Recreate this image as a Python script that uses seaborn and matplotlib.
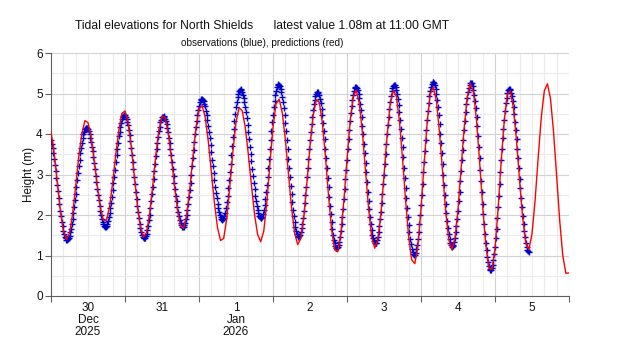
import pandas as pd
import seaborn as sns
import matplotlib.pyplot as plt
import matplotlib.dates as mdates
from matplotlib.ticker import MultipleLocator, FuncFormatter, NullFormatter

# --- DATA ---
start_time = '2025-12-30 00:00'
end_time = '2026-01-06 00:00'

# predicted heights (m), hourly from 30 Dec 00:00
pred_heights = [
    4.06, 3.54, 2.84, 2.14, 1.61, 1.40, 1.55, 2.02, 2.71, 3.43, 4.01, 4.33,
    4.28, 3.93, 3.36, 2.73, 2.18, 1.87, 1.87, 2.21, 2.80, 3.49, 4.09, 4.51,
    4.57, 4.29, 3.71, 2.98, 2.25, 1.71, 1.45, 1.57, 2.04, 2.73, 3.49, 4.10,
    4.44, 4.41, 4.04, 3.44, 2.75, 2.15, 1.73, 1.67, 1.99, 2.64, 3.42, 4.15,
    4.62, 4.70, 4.42, 3.83, 3.07, 2.30, 1.69, 1.37, 1.42, 1.91, 2.70, 3.57,
    4.29, 4.65, 4.58, 4.17, 3.50, 2.74, 2.02, 1.52, 1.34, 1.60, 2.31, 3.26,
    4.16, 4.75, 4.86, 4.53, 3.87, 3.03, 2.19, 1.56, 1.27, 1.41, 1.96, 2.80,
    3.70, 4.44, 4.84, 4.79, 4.28, 3.45, 2.48, 1.64, 1.14, 1.09, 1.54, 2.37,
    3.37, 4.31, 4.92, 5.08, 4.75, 4.03, 3.09, 2.16, 1.45, 1.18, 1.39, 2.04,
    2.98, 3.96, 4.73, 5.08, 4.93, 4.32, 3.40, 2.36, 1.46, 0.89, 0.80, 1.24,
    2.15, 3.25, 4.29, 4.99, 5.16, 4.81, 4.04, 3.05, 2.09, 1.39, 1.14, 1.41,
    2.14, 3.14, 4.16, 4.91, 5.25, 5.04, 4.34, 3.32, 2.21, 1.27, 0.69, 0.65,
    1.17, 2.15, 3.32, 4.33, 4.99, 5.06, 4.62, 3.81, 2.82, 1.91, 1.30, 1.15,
    1.53, 2.36, 3.41, 4.40, 5.07, 5.24, 4.87, 4.04, 2.96, 1.85, 0.99, 0.56, 0.57,
]

# observed heights (m), every 15 min from 30 Dec 00:00 to 5 Jan 11:00
obs_heights = [
    3.86, 3.76, 3.65, 3.52, 3.38, 3.23, 3.08, 2.92, 2.75, 2.59, 2.42, 2.27,
    2.11, 1.97, 1.83, 1.72, 1.61, 1.53, 1.46, 1.42, 1.39, 1.38, 1.40, 1.44,
    1.49, 1.57, 1.66, 1.78, 1.90, 2.05, 2.20, 2.36, 2.53, 2.70, 2.87, 3.04,
    3.21, 3.37, 3.53, 3.66, 3.79, 3.89, 3.99, 4.06, 4.12, 4.15, 4.16, 4.15,
    4.12, 4.07, 4.00, 3.91, 3.81, 3.69, 3.57, 3.43, 3.28, 3.13, 2.97, 2.81,
    2.65, 2.50, 2.36, 2.23, 2.10, 2.00, 1.90, 1.83, 1.77, 1.73, 1.71, 1.71,
    1.74, 1.79, 1.85, 1.94, 2.04, 2.17, 2.30, 2.45, 2.61, 2.78, 2.95, 3.12,
    3.30, 3.47, 3.63, 3.79, 3.94, 4.06, 4.18, 4.27, 4.36, 4.41, 4.45, 4.47,
    4.46, 4.43, 4.38, 4.30, 4.21, 4.09, 3.97, 3.82, 3.66, 3.49, 3.32, 3.14,
    2.95, 2.76, 2.57, 2.40, 2.23, 2.07, 1.92, 1.79, 1.67, 1.59, 1.51, 1.46,
    1.43, 1.42, 1.44, 1.48, 1.54, 1.63, 1.73, 1.87, 2.01, 2.17, 2.34, 2.52,
    2.70, 2.89, 3.08, 3.27, 3.46, 3.63, 3.79, 3.93, 4.07, 4.18, 4.29, 4.35,
    4.41, 4.43, 4.44, 4.42, 4.38, 4.32, 4.25, 4.15, 4.04, 3.91, 3.77, 3.62,
    3.47, 3.31, 3.14, 2.97, 2.80, 2.64, 2.48, 2.34, 2.20, 2.08, 1.97, 1.88,
    1.80, 1.75, 1.71, 1.70, 1.71, 1.75, 1.80, 1.89, 1.99, 2.13, 2.27, 2.44,
    2.61, 2.80, 3.00, 3.20, 3.41, 3.61, 3.81, 3.99, 4.17, 4.32, 4.47, 4.59,
    4.70, 4.78, 4.84, 4.87, 4.87, 4.85, 4.81, 4.75, 4.68, 4.58, 4.47, 4.34,
    4.20, 4.05, 3.89, 3.72, 3.55, 3.37, 3.20, 3.03, 2.86, 2.70, 2.55, 2.41,
    2.28, 2.17, 2.07, 2.00, 1.94, 1.90, 1.88, 1.89, 1.92, 1.98, 2.06, 2.18,
    2.32, 2.48, 2.66, 2.86, 3.06, 3.27, 3.49, 3.71, 3.92, 4.13, 4.32, 4.50,
    4.66, 4.80, 4.91, 5.00, 5.06, 5.09, 5.10, 5.08, 5.04, 4.97, 4.89, 4.79,
    4.67, 4.54, 4.39, 4.23, 4.06, 3.88, 3.69, 3.51, 3.33, 3.14, 2.96, 2.79,
    2.63, 2.48, 2.35, 2.23, 2.13, 2.05, 1.98, 1.94, 1.92, 1.93, 1.96, 2.03,
    2.12, 2.25, 2.39, 2.56, 2.75, 2.95, 3.17, 3.39, 3.62, 3.85, 4.07, 4.29,
    4.48, 4.66, 4.82, 4.96, 5.07, 5.15, 5.21, 5.23, 5.22, 5.18, 5.12, 5.03,
    4.92, 4.78, 4.63, 4.46, 4.27, 4.07, 3.85, 3.62, 3.39, 3.16, 2.94, 2.72,
    2.51, 2.31, 2.13, 1.97, 1.82, 1.70, 1.60, 1.53, 1.48, 1.46, 1.47, 1.51,
    1.58, 1.67, 1.79, 1.93, 2.10, 2.29, 2.49, 2.70, 2.93, 3.16, 3.39, 3.62,
    3.84, 4.05, 4.25, 4.43, 4.59, 4.73, 4.85, 4.94, 5.00, 5.03, 5.04, 5.01,
    4.96, 4.87, 4.76, 4.62, 4.46, 4.28, 4.08, 3.87, 3.64, 3.40, 3.16, 2.92,
    2.68, 2.45, 2.23, 2.02, 1.83, 1.66, 1.51, 1.39, 1.30, 1.23, 1.19, 1.18,
    1.20, 1.26, 1.34, 1.46, 1.60, 1.77, 1.95, 2.16, 2.39, 2.63, 2.88, 3.12,
    3.37, 3.62, 3.87, 4.10, 4.32, 4.51, 4.68, 4.84, 4.97, 5.06, 5.13, 5.16,
    5.17, 5.14, 5.08, 5.00, 4.89, 4.75, 4.59, 4.41, 4.20, 3.99, 3.76, 3.53,
    3.29, 3.05, 2.81, 2.58, 2.35, 2.14, 1.95, 1.78, 1.63, 1.51, 1.42, 1.35,
    1.31, 1.30, 1.32, 1.38, 1.46, 1.58, 1.72, 1.89, 2.08, 2.29, 2.52, 2.76,
    3.00, 3.26, 3.51, 3.75, 3.99, 4.22, 4.43, 4.62, 4.79, 4.93, 5.05, 5.14,
    5.19, 5.21, 5.20, 5.16, 5.09, 4.99, 4.87, 4.72, 4.54, 4.34, 4.13, 3.90,
    3.67, 3.42, 3.16, 2.91, 2.66, 2.42, 2.18, 1.96, 1.76, 1.58, 1.41, 1.28,
    1.17, 1.09, 1.03, 1.01, 1.02, 1.07, 1.15, 1.26, 1.40, 1.58, 1.78, 2.00,
    2.24, 2.50, 2.77, 3.05, 3.32, 3.59, 3.86, 4.11, 4.35, 4.57, 4.76, 4.93,
    5.06, 5.16, 5.24, 5.28, 5.29, 5.26, 5.20, 5.11, 4.99, 4.84, 4.66, 4.46,
    4.24, 4.01, 3.77, 3.52, 3.26, 3.00, 2.74, 2.50, 2.27, 2.05, 1.85, 1.68,
    1.53, 1.41, 1.31, 1.25, 1.22, 1.23, 1.26, 1.34, 1.44, 1.57, 1.72, 1.90,
    2.11, 2.34, 2.58, 2.83, 3.09, 3.35, 3.61, 3.86, 4.10, 4.33, 4.54, 4.73,
    4.89, 5.03, 5.14, 5.21, 5.26, 5.27, 5.25, 5.18, 5.09, 4.97, 4.82, 4.64,
    4.43, 4.20, 3.95, 3.68, 3.40, 3.12, 2.84, 2.56, 2.28, 2.02, 1.77, 1.53,
    1.32, 1.13, 0.97, 0.84, 0.74, 0.67, 0.64, 0.65, 0.69, 0.77, 0.89, 1.04,
    1.21, 1.42, 1.66, 1.92, 2.19, 2.47, 2.76, 3.06, 3.35, 3.63, 3.90, 4.13,
    4.35, 4.57, 4.76, 4.90, 5.01, 5.08, 5.12, 5.11, 5.08, 5.02, 4.93, 4.81,
    4.66, 4.49, 4.30, 4.09, 3.87, 3.64, 3.40, 3.15, 2.90, 2.66, 2.42, 2.20,
    1.98, 1.78, 1.60, 1.45, 1.32, 1.22, 1.14, 1.10, 1.08,
]

title_text = 'Tidal elevations for North Shields      latest value 1.08m at 11:00 GMT'
subtitle_text = 'observations (blue), predictions (red)'

pred = pd.DataFrame({
    'time': pd.date_range(start_time, periods=len(pred_heights), freq='h'),
    'height': pred_heights,
})
obs = pd.DataFrame({
    'time': pd.date_range(start_time, periods=len(obs_heights), freq='15min'),
    'height': obs_heights,
})

# --- SETUP ---
sns.set_theme(style='white')
plt.rcParams['font.family'] = ['Liberation Sans', 'DejaVu Sans']

fig = plt.figure(figsize=(6.2, 3.5), dpi=100)
ax = fig.add_axes([51 / 620, 1 - 296 / 350, 518 / 620, 243 / 350])

sns.scatterplot(data=obs, x='time', y='height', marker='+', color='#0000cc',
                s=13, linewidth=1.0, ax=ax, zorder=3)
sns.lineplot(data=pred, x='time', y='height', color='#ff0000',
             linewidth=1.0, ax=ax, zorder=4)

# --- AXES ---
ax.set_xlim(pd.Timestamp(start_time), pd.Timestamp(end_time))
ax.set_ylim(0, 6)

first_day = pd.Timestamp(start_time)


def day_label(x, pos):
    d = mdates.num2date(x)
    if d.hour != 12:
        return ''
    if d.day == 1 or d.date() == first_day.date():
        return f"{d.day}\n{d.strftime('%b')}\n{d.year}"
    return str(d.day)


ax.xaxis.set_major_locator(mdates.DayLocator())
ax.xaxis.set_major_formatter(NullFormatter())
ax.xaxis.set_minor_locator(mdates.HourLocator(byhour=range(0, 24, 4)))
ax.xaxis.set_minor_formatter(FuncFormatter(day_label))
ax.yaxis.set_major_locator(MultipleLocator(1))
ax.yaxis.set_minor_locator(MultipleLocator(0.5))

ax.tick_params(axis='x', which='major', bottom=True, length=4, width=0.8,
               color='#606060', direction='out')
ax.tick_params(axis='x', which='minor', bottom=True, length=0, labelsize=8.5,
               pad=4, labelcolor='#111111')
ax.tick_params(axis='y', which='major', left=True, length=4, width=0.8,
               color='#606060', direction='out', labelsize=8.5, pad=2,
               labelcolor='#111111')
ax.tick_params(axis='y', which='minor', length=0)
for lbl in ax.get_xticklabels(minor=True):
    lbl.set_linespacing(1.05)

ax.grid(which='major', color='#d2d2d2', linewidth=0.8)
ax.grid(which='minor', color='#ebebeb', linewidth=0.8)
ax.set_axisbelow(True)

for side in ['top', 'right']:
    ax.spines[side].set_visible(False)
for side in ['left', 'bottom']:
    ax.spines[side].set_color('#606060')
    ax.spines[side].set_linewidth(0.8)

ax.set_xlabel('')
ax.set_ylabel('Height (m)', fontsize=8.5, color='#111111', labelpad=0.5)

fig.text(262 / 620, 1 - 26 / 350, title_text, ha='center', va='center',
         fontsize=8.7, color='#111111')
fig.text(262 / 620, 1 - 43 / 350, subtitle_text, ha='center', va='center',
         fontsize=7.2, color='#111111')

fig.savefig('out.png', dpi=100)
